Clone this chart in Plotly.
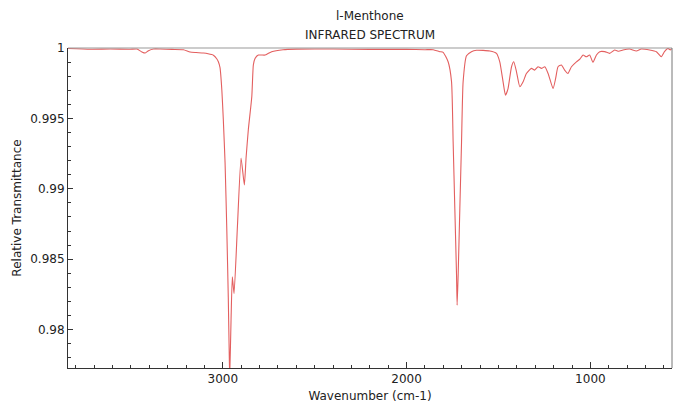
import plotly.graph_objects as go

wavenumber = [
    3842, 3721, 3612, 3504, 3467, 3440, 3422, 3404, 3377, 3341, 3276, 3214,
    3178, 3145, 3105, 3080, 3051, 3033, 3024, 3015, 3005, 2997, 2987.5, 2978,
    2970, 2964, 2962, 2955, 2948, 2938.6, 2920, 2900.5, 2882.6, 2873, 2861,
    2842, 2833.7, 2824.5, 2806.5, 2770, 2752, 2734, 2672, 2600, 2400, 2200,
    2000, 1900, 1855, 1819, 1801, 1774, 1755.4, 1746.7, 1737.5, 1728.2, 1725,
    1719.5, 1710.3, 1701, 1692.4, 1674, 1647, 1619.5, 1547, 1511, 1493, 1475,
    1462, 1448, 1429, 1417, 1402, 1384, 1366, 1348, 1321, 1303, 1285, 1266,
    1248, 1230, 1203, 1189, 1176, 1158, 1140, 1122, 1103, 1076, 1058, 1040,
    1022, 1004, 986, 967, 949, 922, 895, 868, 846, 823, 787, 750, 723, 678,
    641, 614, 597, 578, 565, 558,
]
transmittance = [
    0.99996, 0.99991, 0.99993, 0.99991, 0.99993, 0.99972, 0.99964, 0.99981,
    0.99993, 0.99993, 0.99990, 0.99988, 0.99972, 0.99968, 0.99964, 0.99959,
    0.99949, 0.99924, 0.99902, 0.99860, 0.99700, 0.99490, 0.99184, 0.98707,
    0.98230, 0.97760, 0.97680, 0.98066, 0.98374, 0.98256, 0.98739, 0.99219,
    0.99027, 0.99224, 0.99419, 0.99656, 0.99879, 0.99926, 0.99950, 0.99950,
    0.99962, 0.99974, 0.99988, 0.99992, 0.99993, 0.99990, 0.99990, 0.99988,
    0.99988, 0.99974, 0.99969, 0.99902, 0.99760, 0.99333, 0.98858, 0.98386,
    0.98173, 0.98386, 0.98858, 0.99333, 0.99760, 0.99945, 0.99974, 0.99984,
    0.99979, 0.99962, 0.99902, 0.99760, 0.99665, 0.99712, 0.99867, 0.99902,
    0.99831, 0.99725, 0.99760, 0.99819, 0.99855, 0.99843, 0.99867, 0.99855,
    0.99867, 0.99819, 0.99712, 0.99784, 0.99867, 0.99879, 0.99843, 0.99819,
    0.99867, 0.99902, 0.99920, 0.99950, 0.99938, 0.99950, 0.99898, 0.99950,
    0.99974, 0.99974, 0.99962, 0.99986, 0.99977, 0.99986, 0.99993, 0.99979,
    0.99993, 0.99986, 0.99974, 0.99938, 0.99974, 0.99997, 0.99986, 0.99995,
]

x_ticks = [1000, 2000, 3000]
y_ticks = [0.98, 0.985, 0.99, 0.995, 1.0]
y_tick_text = ["0.98", "0.985", "0.99", "0.995", "1"]
title_lines = ["l-Menthone", "INFRARED SPECTRUM"]

FONT = "DejaVu Sans"

fig = go.Figure()
fig.add_trace(go.Scatter(
    x=wavenumber, y=transmittance, mode="lines",
    line=dict(color="#e35f5f", width=1.1, shape="spline", smoothing=0.5),
    hoverinfo="skip", showlegend=False,
))

fig.update_layout(
    width=700, height=404,
    margin=dict(l=68, r=28, t=48, b=36),
    paper_bgcolor="white", plot_bgcolor="white",
    font=dict(family=FONT, size=12, color="#222"),
    annotations=[
        dict(text=title_lines[0], xref="paper", yref="paper", x=0.5, y=1.1,
             xanchor="center", yanchor="middle", showarrow=False,
             font=dict(family=FONT, size=12, color="#222")),
        dict(text=title_lines[1], xref="paper", yref="paper", x=0.5, y=1.04,
             xanchor="center", yanchor="middle", showarrow=False,
             font=dict(family=FONT, size=12, color="#222")),
    ],
    shapes=[
        dict(type="line", xref="paper", yref="paper", x0=0, x1=1, y0=1, y1=1,
             line=dict(color="#999", width=1.2)),
        dict(type="line", xref="paper", yref="paper", x0=1, x1=1, y0=0, y1=1,
             line=dict(color="#777", width=1)),
    ],
)

fig.update_xaxes(
    range=[3842, 556], autorange=False,
    tickvals=x_ticks, ticktext=[str(v) for v in x_ticks],
    ticks="inside", ticklen=6, tickcolor="#333", tickwidth=1,
    minor=dict(dtick=100, tick0=0, ticks="inside", ticklen=3, tickcolor="#333"),
    showline=True, linecolor="#333", linewidth=1,
    showgrid=False, zeroline=False,
    tickfont=dict(family=FONT, size=12, color="#222"),
    title=dict(text="Wavenumber (cm-1)", standoff=6,
               font=dict(family=FONT, size=12, color="#222")),
    automargin=False,
)
fig.update_yaxes(
    range=[0.97727, 1.0], autorange=False,
    tickvals=y_ticks, ticktext=y_tick_text,
    ticks="inside", ticklen=5, tickcolor="#333", tickwidth=1,
    minor=dict(dtick=0.001, tick0=0, ticks="inside", ticklen=3, tickcolor="#333"),
    showline=True, linecolor="#333", linewidth=1,
    showgrid=False, zeroline=False,
    tickfont=dict(family=FONT, size=12, color="#222"),
    title=dict(text="Relative Transmittance", standoff=6,
               font=dict(family=FONT, size=12, color="#222")),
    automargin=False,
)

fig.write_html("out.html")
